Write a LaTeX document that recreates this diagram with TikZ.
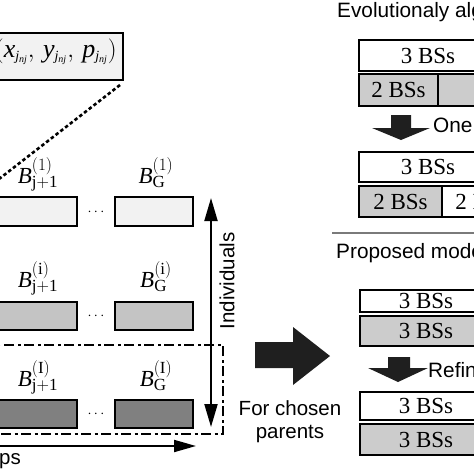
\documentclass[tikz,border=0pt]{standalone}
\usepackage{fontspec}
\setmainfont{Liberation Serif}
\newfontfamily\arial{Liberation Sans}
\usetikzlibrary{arrows.meta}
\DeclareMathSizes{26}{26}{14}{10}
\DeclareMathSizes{23}{23}{17}{12}
\definecolor{lightfill}{HTML}{F2F2F2}
\definecolor{midfill}{HTML}{C4C4C4}
\definecolor{darkfill}{HTML}{808080}
\definecolor{cellgray}{HTML}{CCCCCC}
\definecolor{sepgray}{HTML}{7A7A7A}
\tikzset{
  cell/.style={draw=black, line width=2pt, inner sep=0pt, outer sep=0pt, font=\fontsize{23}{23}\selectfont},
  lbl/.style={inner sep=0pt, font=\fontsize{23}{23}\selectfont, anchor=base},
  dotsnode/.style={inner sep=0pt, font=\fontsize{14}{14}\selectfont, anchor=base},
  sans/.style={inner sep=0pt, font=\arial\fontsize{20.5}{23}\selectfont},
  title/.style={inner sep=0pt, font=\arial\fontsize{20.8}{23}\selectfont, anchor=base west},
  blockarrow/.style={fill=black!88, draw=none},
  bigtip/.style={line width=2pt, -{Triangle[length=22pt,width=12pt]}},
  bothtips/.style={line width=2pt, {Triangle[length=23pt,width=13pt]}-{Triangle[length=23pt,width=13pt]}},
  dotline/.style={line width=2.6pt, dash pattern=on 3.5pt off 2.5pt},
  dashdotline/.style={line width=1.8pt, dash pattern=on 10pt off 3.5pt on 3pt off 3.5pt},
}
\begin{document}
\begin{tikzpicture}[x=1pt,y=-1pt]
\useasboundingbox (0,0) rectangle (474,474);
\clip (0,0) rectangle (474,474);

% formula box
\node[cell, fill=lightfill, minimum width=183pt, minimum height=47pt] (fbox) at (31.5,56.5) {};
\node[anchor=base east, inner sep=0pt, font=\fontsize{26}{26}\selectfont] (formula) at (117,57)
  {$(\mathit{x}_{\mathit{j}_{\mathit{n}\mathit{j}}},\, \mathit{y}_{\mathit{j}_{\mathit{n}\mathit{j}}},\, \mathit{p}_{\mathit{j}_{\mathit{n}\mathit{j}}})$};
\coordinate (dend) at (-10,186);
\draw[dotline] ([shift={(-3,5)}]fbox.south east) -- (dend);

% row 1
\node[cell, fill=lightfill, minimum width=79pt, minimum height=29pt] (a1) at (37.5,211.5) {};
\node[cell, fill=lightfill, minimum width=78pt, minimum height=29pt] (g1) at (154,211.5) {};
\node[lbl] (la1) at (38,183) {$\mathit{B}^{(1)}_{\mathrm{j+1}}$};
\node[lbl] (lg1) at (156,183) {$\mathit{B}^{(1)}_{\mathrm{G}}$};
\node[dotsnode] (d1) at (96,215) {$\cdots$};

% row 2
\node[cell, fill=midfill, minimum width=79pt, minimum height=28pt] (a2) at (37.5,316) {};
\node[cell, fill=midfill, minimum width=78pt, minimum height=28pt] (g2) at (154,316) {};
\node[lbl] (la2) at (38,287) {$\mathit{B}^{(\mathrm{i})}_{\mathrm{j+1}}$};
\node[lbl] (lg2) at (156,287) {$\mathit{B}^{(\mathrm{i})}_{\mathrm{G}}$};
\node[dotsnode] (d2) at (96,319.5) {$\cdots$};

% row 3
\node[cell, fill=darkfill, minimum width=79pt, minimum height=28pt] (a3) at (37.5,414) {};
\node[cell, fill=darkfill, minimum width=78pt, minimum height=28pt] (g3) at (154,414) {};
\node[lbl] (la3) at (38,386) {$\mathit{B}^{(\mathrm{I})}_{\mathrm{j+1}}$};
\node[lbl] (lg3) at (156,386) {$\mathit{B}^{(\mathrm{I})}_{\mathrm{G}}$};
\node[dotsnode] (d3) at (96,417.5) {$\cdots$};

% chosen parents frame
\draw[dashdotline] (-10,345) rectangle (223,434);

% individuals arrow
\coordinate (indtop) at (211,198);
\coordinate (indbot) at (211,427);
\draw[bothtips] (indbot) -- (indtop);
\node[sans, rotate=90] (indlabel) at (227,281) {Individuals};

% groups arrow
\coordinate (grpL) at (-10,446);
\coordinate (grpR) at (196,446);
\draw[bigtip] (grpL) -- (grpR);
\node[sans, anchor=base east] (grplabel) at (21,464) {Groups};

% big right arrow
\fill[blockarrow] (255,342) -- (293,342) -- (293,327) -- (330,356) -- (293,385) -- (293,368) -- (255,368) -- cycle;
\node[sans, anchor=base] (chosen1) at (290,415) {For chosen};
\node[sans, anchor=base] (chosen2) at (290,438) {parents};

% evolutionary algorithm panel
\node[title] (evotitle) at (337,17) {Evolutionaly algorithm};
\node[cell, fill=white, minimum width=138pt, minimum height=31pt] (e1) at (428,55.5) {3 BSs};
\node[cell, fill=cellgray, minimum width=79pt, minimum height=32pt] (e2a) at (398.5,90) {2 BSs};
\node[cell, fill=cellgray, minimum width=122pt, minimum height=32pt, anchor=west] (e2b) at (e2a.east) {};
\fill[blockarrow] (391,115) -- (411,115) -- (411,128) -- (430,128) -- (401,140) -- (372,128) -- (391,128) -- cycle;
\node[title] (onept) at (433,132) {One point crossover};
\node[cell, fill=white, minimum width=138pt, minimum height=30pt] (e3) at (428,167) {3 BSs};
\node[cell, fill=cellgray, minimum width=83pt, minimum height=31pt] (e4a) at (400.5,201.5) {2 BSs};
\node[cell, fill=white, minimum width=81pt, minimum height=31pt, anchor=west] (e4b) at (e4a.east) {2 BSs};

% separator
\coordinate (sepL) at (332,233);
\coordinate (sepR) at (480,233);
\draw[sepgray, line width=1.6pt] (sepL) -- (sepR);

% proposed model panel
\node[title] (proptitle) at (336,258) {Proposed model};
\node[cell, fill=white, minimum width=132pt, minimum height=22pt] (p1) at (426,301) {3 BSs};
\node[cell, fill=cellgray, minimum width=132pt, minimum height=30pt] (p2) at (426,331) {3 BSs};
\fill[blockarrow] (388,357) -- (410,357) -- (410,368) -- (428,368) -- (398,382) -- (368,368) -- (388,368) -- cycle;
\node[title] (refine) at (428,377) {Refinement};
\node[cell, fill=white, minimum width=132pt, minimum height=28pt] (p3) at (426,406) {3 BSs};
\node[cell, fill=cellgray, minimum width=132pt, minimum height=31pt] (p4) at (426,439.5) {3 BSs};
\end{tikzpicture}
\end{document}
